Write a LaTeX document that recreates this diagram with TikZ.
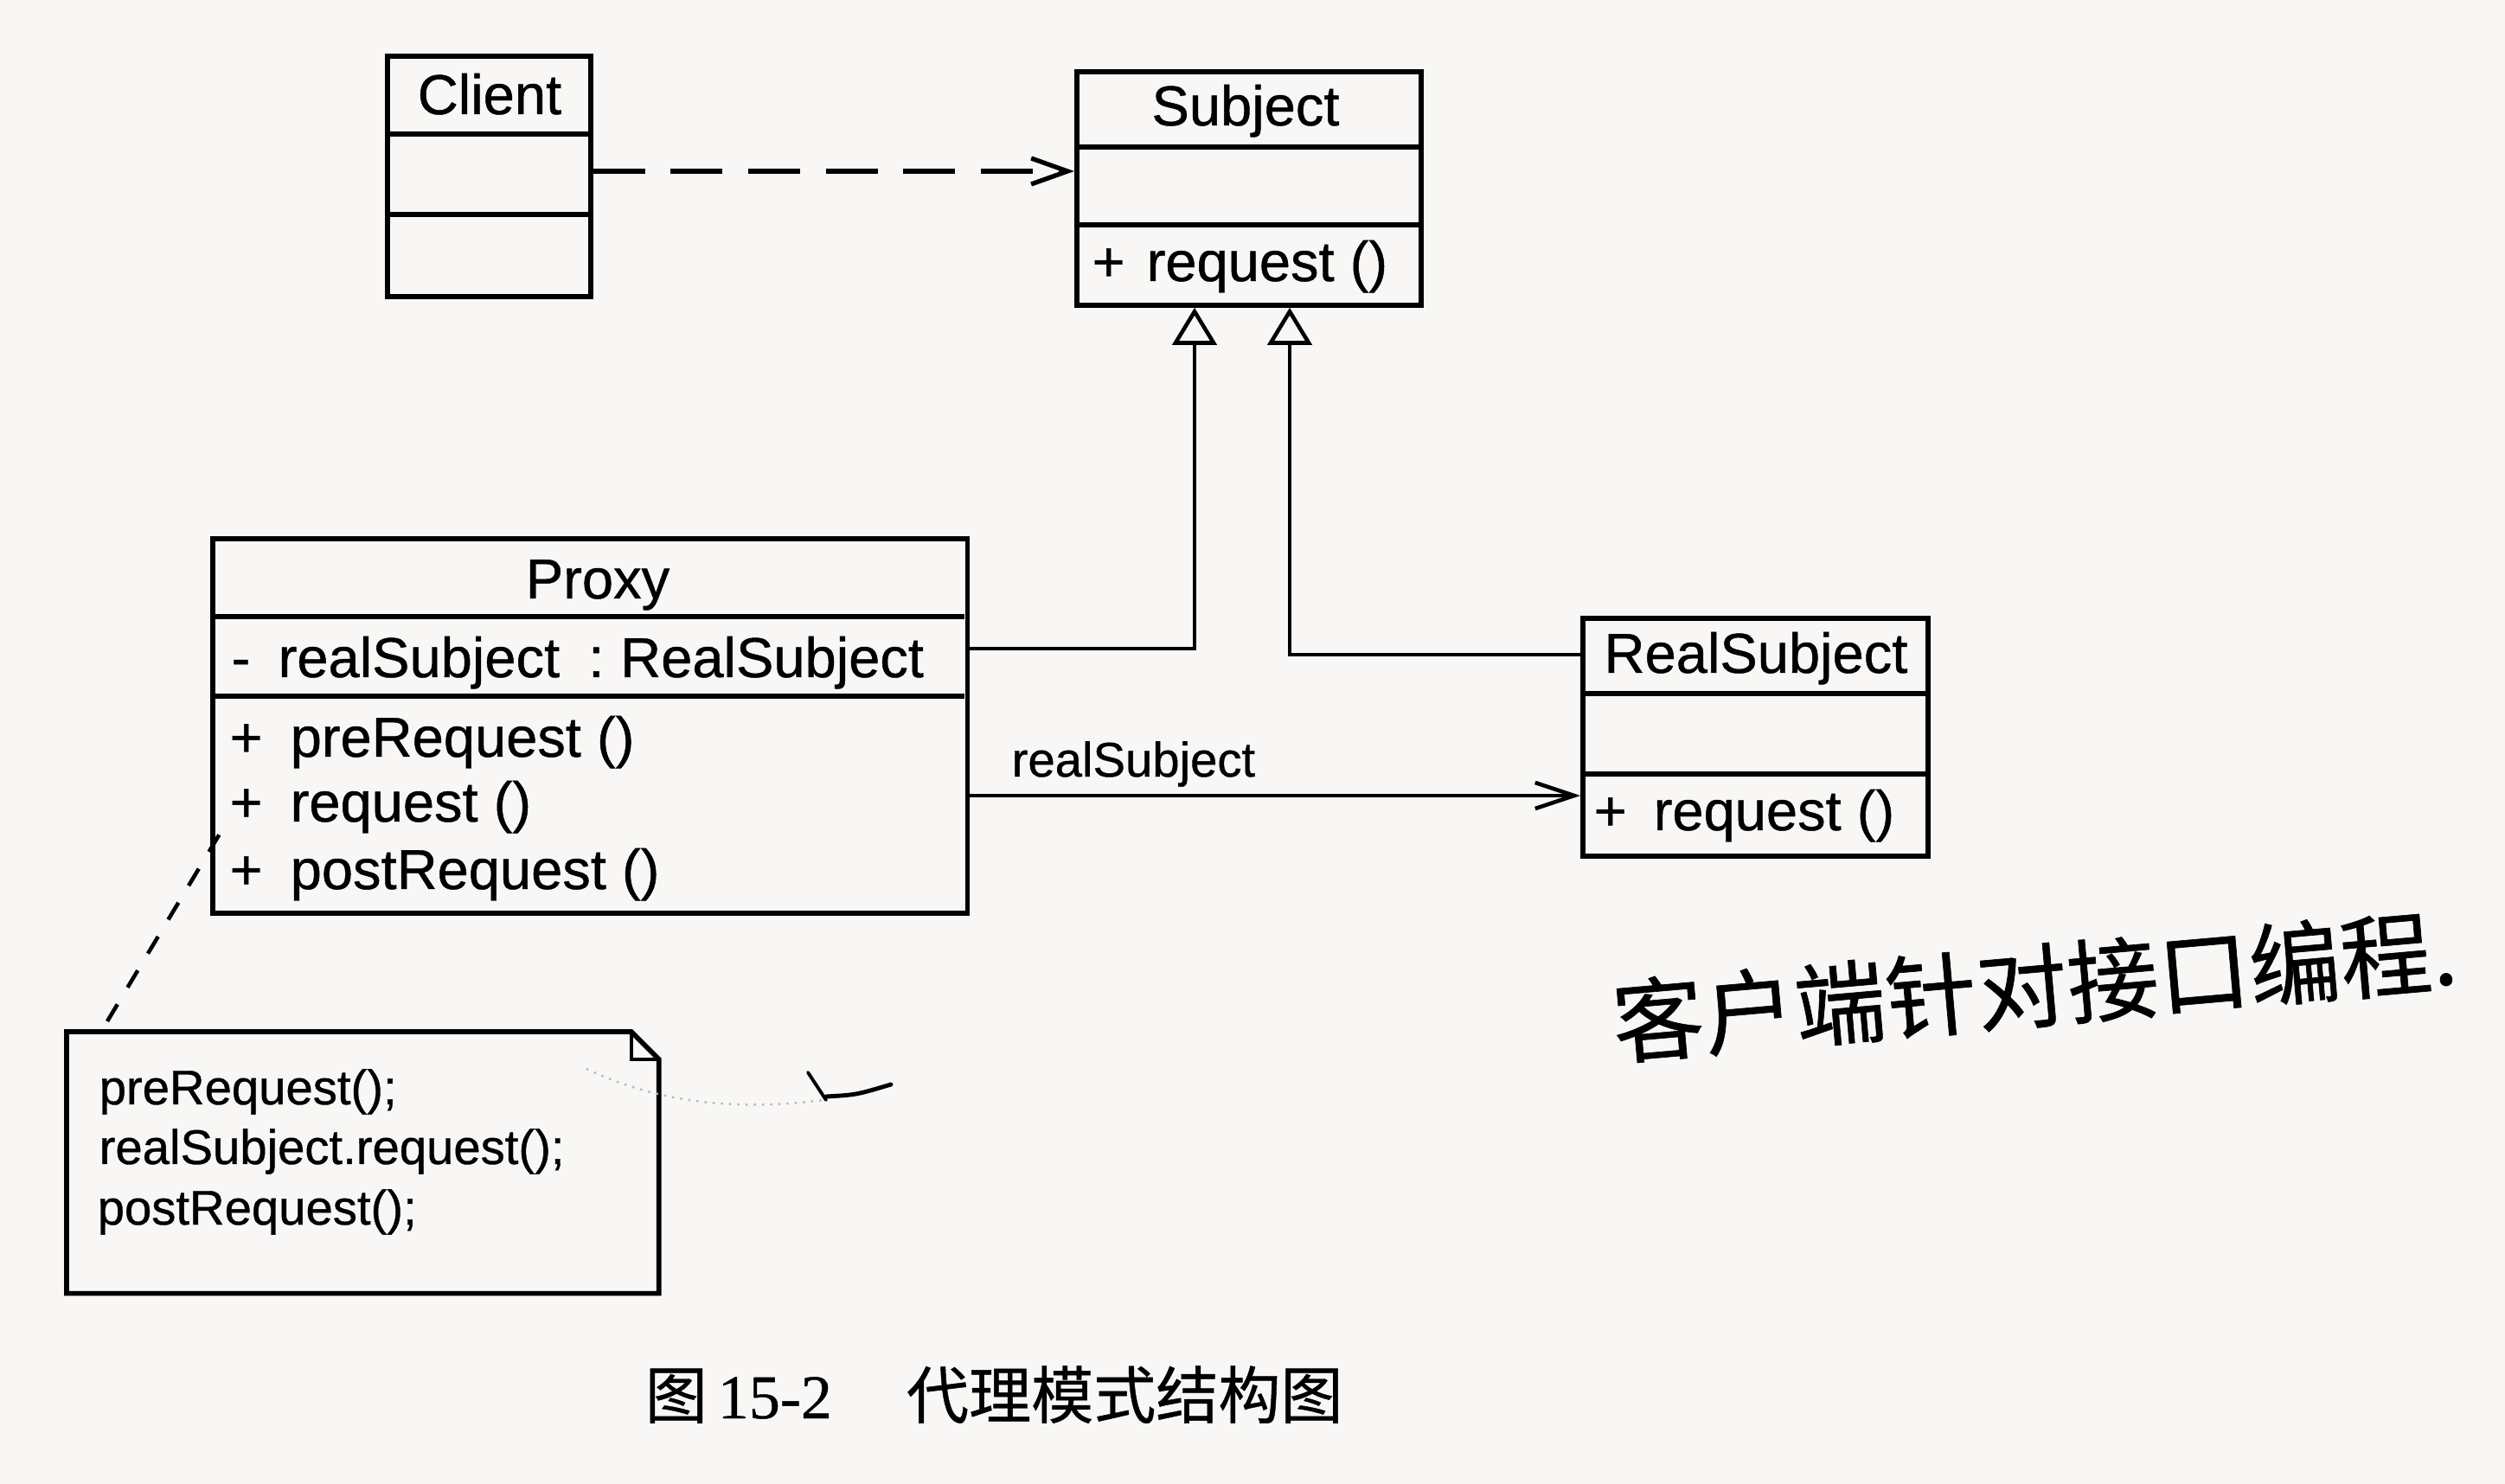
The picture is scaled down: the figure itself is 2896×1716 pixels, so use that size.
\documentclass[tikz,border=0pt]{standalone}
\usepackage{fontspec}
\setmainfont{Liberation Sans}[FakeBold=0.7]
\newfontfamily\cjk{Noto Sans CJK SC}[FakeBold=0.6]
\newfontfamily\serifdigits{Liberation Serif}[FakeBold=0.6]
\usetikzlibrary{arrows.meta,calc}
\definecolor{paper}{RGB}{248,247,245}
\begin{document}
\begin{tikzpicture}[x=0.01cm,y=-0.01cm,
  cls/.style={draw, line width=1.6pt, rectangle, inner sep=0pt, anchor=north west},
  sepline/.style={line width=1.6pt},
  txt/.style={font=\fontsize{18.5}{22}\selectfont, inner sep=0pt},
  smalltxt/.style={font=\fontsize{16}{19}\selectfont, inner sep=0pt},
  dep/.style={line width=1.5pt, dash pattern=on 17pt off 8.5pt, -{Straight Barb[length=0.42cm,width=0.3cm]}},
  inh/.style={line width=1.3pt, -{Triangle[open,length=0.43cm,width=0.51cm]}},
  assoc/.style={line width=1.3pt, -{Straight Barb[length=0.45cm,width=0.3cm]}},
  notelink/.style={line width=1.3pt, dash pattern=on 6.5pt off 6.5pt},
  scribble/.style={line width=1.1pt, line cap=round},
]
\fill[paper] (0,0) rectangle (2896,1716);
\useasboundingbox (0,0) rectangle (2896,1716);

% ---------- Client ----------
\node[cls, minimum width=2.35cm, minimum height=2.78cm] (client) at (445,62) {};
\draw[sepline] (445,155) -- (680,155);
\draw[sepline] (445,248) -- (680,248);
\node[txt, anchor=base] (clientname) at (566,132) {Client};

% ---------- Subject ----------
\node[cls, minimum width=3.98cm, minimum height=2.70cm] (subject) at (1242,80) {};
\draw[sepline] (1242,170) -- (1640,170);
\draw[sepline] (1242,260) -- (1640,260);
\node[txt, anchor=base] (subjectname) at (1440,145) {Subject};
\node[txt, anchor=base west] (subjectop) at (1262,325) {\makebox[0.63cm][l]{+}request ()};

% ---------- Proxy ----------
\node[cls, minimum width=8.72cm, minimum height=4.33cm] (proxy) at (243,620) {};
\draw[sepline] (243,713) -- (1115,713);
\draw[sepline] (243,805) -- (1115,805);
\node[txt, anchor=base] (proxyname) at (691,692) {Proxy};
\node[txt, anchor=base west] (proxyattr) at (267,783) {\makebox[0.54cm][l]{-}realSubject\hspace{0.33cm}:\hspace{0.19cm}RealSubject};
\node[txt, anchor=base west] (proxyop1) at (265,875) {\makebox[0.7cm][l]{+}preRequest ()};
\node[txt, anchor=base west] (proxyop2) at (265,950) {\makebox[0.7cm][l]{+}request ()};
\node[txt, anchor=base west] (proxyop3) at (265,1028) {\makebox[0.7cm][l]{+}postRequest ()};

% ---------- RealSubject ----------
\node[cls, minimum width=3.99cm, minimum height=2.75cm] (realsubject) at (1827,712) {};
\draw[sepline] (1827,802) -- (2226,802);
\draw[sepline] (1827,895) -- (2226,895);
\node[txt, anchor=base] (realname) at (2030,778) {RealSubject};
\node[txt, anchor=base west] (realop) at (1842,960) {\makebox[0.69cm][l]{+}request ()};

% ---------- Note ----------
\node[draw=none, inner sep=0pt, minimum width=6.83cm, minimum height=3.01cm, anchor=north west] (note) at (77,1193) {};
\draw[sepline] (note.north west) -- ([xshift=-0.32cm]note.north east) -- ([yshift=-0.32cm]note.north east) -- (note.south east) -- (note.south west) -- cycle;
\draw[line width=1.2pt] ([xshift=-0.32cm]note.north east) |- ([yshift=-0.32cm]note.north east);
\node[smalltxt, anchor=base west] (note1) at (114,1277) {preRequest();};
\node[smalltxt, anchor=base west] (note2) at (114,1346) {realSubject.request();};
\node[smalltxt, anchor=base west] (note3) at (112,1416) {postRequest();};

% ---------- helper coordinates ----------
\coordinate (ydep) at (0,198);
\coordinate (yinh1) at (0,750);
\coordinate (yinh2) at (0,757);
\coordinate (yassoc) at (0,920);
\coordinate (xinh1) at (1381,0);
\coordinate (xinh2) at (1491,0);

% ---------- connectors ----------
\draw[dep] (client.east |- ydep) -- (subject.west |- ydep);
\draw[inh] (proxy.east |- yinh1) -| (xinh1 |- subject.south);
\draw[inh] (realsubject.west |- yinh2) -| (xinh2 |- subject.south);
\draw[assoc] (proxy.east |- yassoc) -- (realsubject.west |- yassoc);
\node[smalltxt, anchor=base west] (assoclabel) at (1169,898) {realSubject};
\draw[notelink] ($(note.north west)+(47,-12)$) -- ($(proxy.south west)+(13,-98)$);

% ---------- pencil scribble ----------
\draw[gray!55, line width=0.7pt, dotted] (678,1236) .. controls (760,1275) and (850,1285) .. (952,1272);
\draw[scribble] (934,1240) -- (955,1272);
\draw[scribble, line width=1.4pt] (955,1268) .. controls (990,1266) .. (1030,1254);

% ---------- handwriting ----------
\node[font=\cjk\fontsize{30}{30}\selectfont, rotate=5, inner sep=0pt] (hand) at (2352,1140) {客户端针对接口编程.};

% ---------- caption ----------
\node[anchor=base west, inner sep=0pt, font=\fontsize{20.5}{24}\selectfont] (caption) at (745,1640) {\cjk 图\hspace{0.12cm}{\serifdigits 15-2}\hspace{0.86cm}代理模式结构图};
\end{tikzpicture}
\end{document}
